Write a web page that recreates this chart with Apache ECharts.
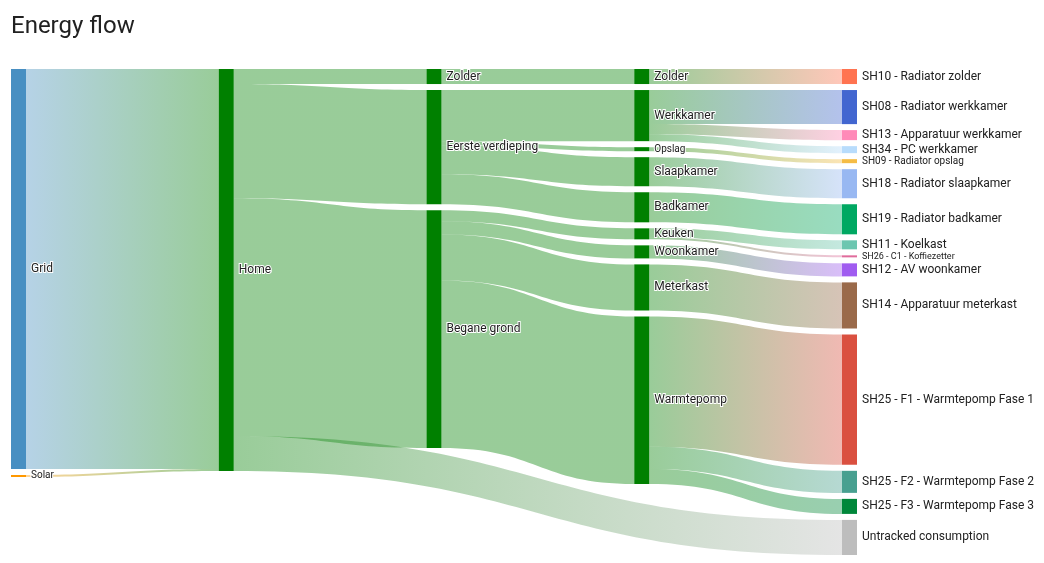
<!DOCTYPE html>
<html>
<head>
<meta charset="utf-8">
<title>Energy flow</title>
<script src="https://cdn.jsdelivr.net/npm/echarts@6/dist/echarts.min.js"></script>
<style>
  html, body { margin: 0; padding: 0; background: #fff; }
  #main { width: 1044px; height: 563px; }
</style>
</head>
<body>
<div id="main"></div>
<script>
// sources
var sourceNames = ['Grid', 'Solar'];
var sourceValues = [399, 2];
var sourceColors = ['#488fc2', '#ff9800'];

// floors (level 2)
var floorNames = ['Zolder', 'Eerste verdieping', 'Begane grond'];

// rooms (level 3), index of the floor they belong to
var roomNames = ['Zolder', 'Werkkamer', 'Opslag', 'Slaapkamer', 'Badkamer', 'Keuken', 'Woonkamer', 'Meterkast', 'Warmtepomp'];
var roomFloor = [0, 1, 1, 1, 1, 2, 2, 2, 2];

// devices (level 4), index of the room they belong to
var deviceNames = [
    'SH10 - Radiator zolder',
    'SH08 - Radiator werkkamer',
    'SH13 - Apparatuur werkkamer',
    'SH34 - PC werkkamer',
    'SH09 - Radiator opslag',
    'SH18 - Radiator slaapkamer',
    'SH19 - Radiator badkamer',
    'SH11 - Koelkast',
    'SH26 - C1 - Koffiezetter',
    'SH12 - AV woonkamer',
    'SH14 - Apparatuur meterkast',
    'SH25 - F1 - Warmtepomp Fase 1',
    'SH25 - F2 - Warmtepomp Fase 2',
    'SH25 - F3 - Warmtepomp Fase 3'
];
var deviceRoom = [0, 1, 1, 1, 2, 3, 4, 5, 5, 6, 7, 8, 8, 8];
var deviceValues = [15, 34, 10, 7, 4, 29, 30, 9, 2, 13, 46, 130, 22, 15];
var deviceColors = [
    '#ff7350', '#4266d0', '#ff8ab8', '#b8dcfc', '#f5bc45', '#98b8f2', '#00a862',
    '#6cc6b0', '#e06c9c', '#a05cf0', '#9a6a4a', '#da5040', '#48a090', '#00873a'
];

var untrackedName = 'Untracked consumption';
var untrackedValue = 35;
var untrackedColor = '#bdbdbd';

var homeColor = '#008000';
// labels drawn smaller for thin nodes
var smallLabels = { 'Solar': 10, 'room:Opslag': 10, 'SH09 - Radiator opslag': 10, 'SH26 - C1 - Koffiezetter': 9 };

function makeNode(id, text, color) {
    var node = { name: id, text: text, itemStyle: { color: color } };
    if (smallLabels[id]) {
        node.label = { fontSize: smallLabels[id] };
    }
    return node;
}

var nodes = [];
var links = [];

sourceNames.forEach(function (n, i) {
    nodes.push(makeNode(n, n, sourceColors[i]));
});
nodes.push(makeNode('Home', 'Home', homeColor));
floorNames.forEach(function (n) {
    nodes.push(makeNode('floor:' + n, n, homeColor));
});
roomNames.forEach(function (n) {
    nodes.push(makeNode('room:' + n, n, homeColor));
});
deviceNames.forEach(function (n, i) {
    nodes.push(makeNode(n, n, deviceColors[i]));
});
nodes.push(makeNode(untrackedName, untrackedName, untrackedColor));

// sum values upward
var roomValues = roomNames.map(function () { return 0; });
deviceNames.forEach(function (n, i) {
    roomValues[deviceRoom[i]] += deviceValues[i];
    links.push({ source: 'room:' + roomNames[deviceRoom[i]], target: n, value: deviceValues[i] });
});
var floorValues = floorNames.map(function () { return 0; });
roomNames.forEach(function (n, i) {
    floorValues[roomFloor[i]] += roomValues[i];
    links.push({ source: 'floor:' + floorNames[roomFloor[i]], target: 'room:' + n, value: roomValues[i] });
});
floorNames.forEach(function (n, i) {
    links.push({ source: 'Home', target: 'floor:' + n, value: floorValues[i] });
});
links.push({ source: 'Home', target: untrackedName, value: untrackedValue });
sourceNames.forEach(function (n, i) {
    links.push({ source: n, target: 'Home', value: sourceValues[i] });
});

var myChart = echarts.init(document.getElementById('main'));
myChart.setOption({
    animation: false,
    title: {
        text: 'Energy flow',
        left: 6,
        top: 10,
        textStyle: {
            fontFamily: 'Roboto',
            fontSize: 24,
            fontWeight: 'normal',
            color: '#212121'
        }
    },
    series: [
        {
            type: 'sankey',
            left: 11,
            right: 187,
            top: 69,
            bottom: 8,
            nodeWidth: 15,
            nodeGap: 6,
            nodeAlign: 'justify',
            layoutIterations: 0,   // keep the node order as given
            draggable: false,
            data: nodes,
            links: links,
            label: {
                show: true,
                position: 'right',
                fontFamily: 'Roboto',
                fontSize: 12,
                color: '#212121',
                textBorderColor: '#fff',
                textBorderWidth: 2,
                formatter: function (p) { return p.data.text; }
            },
            itemStyle: { borderWidth: 0 },
            lineStyle: {
                color: 'gradient',
                opacity: 0.4,
                curveness: 0.5
            }
        }
    ]
});
</script>
</body>
</html>
